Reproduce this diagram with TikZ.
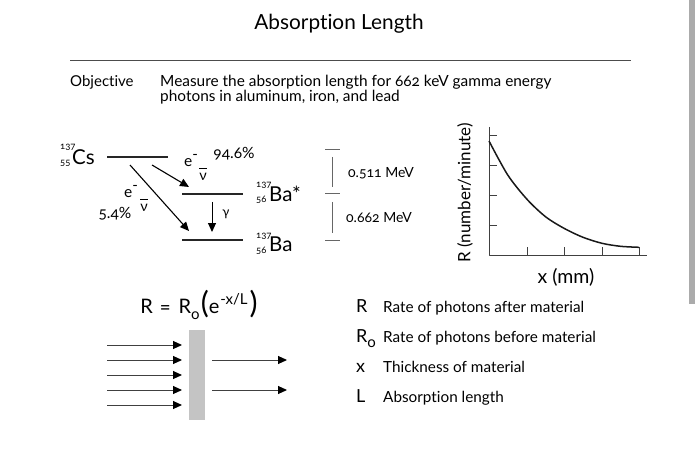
\documentclass[tikz,border=0pt]{standalone}
\usepackage{fontspec}
\setmainfont[Numbers=OldStyle,Ligatures=NoCommon]{Lato}
\usetikzlibrary{arrows.meta}
\tikzset{
	txt/.style={anchor=base west,inner sep=0pt,font=\fontsize{15.3}{16}\selectfont},
	head/.style={anchor=base west,inner sep=0pt,font=\fontsize{15.4}{16}\selectfont},
	big/.style={anchor=base west,inner sep=0pt,font=\fontsize{20.5}{22}\selectfont},
	iso/.style={anchor=base west,inner sep=0pt,font=\fontsize{9.5}{10}\selectfont},
	small/.style={inner sep=0pt,font=\fontsize{15.5}{16}\selectfont},
	mev/.style={inner sep=0pt,font=\fontsize{14}{16}\selectfont},
	level/.style={line width=1.7pt,black!85},
	tick/.style={line width=1pt,black!60},
	beam/.style={->,line width=1pt,black!75},
}
\newcommand{\lowtxt}[1]{\raisebox{-.3em}{\fontsize{15}{15}\selectfont #1}}
\newcommand{\uptxt}[1]{\raisebox{.45em}{\fontsize{15}{15}\selectfont #1}}
\newcommand{\nubar}{\ensuremath{\overline{\hbox{\rule{0pt}{10.5pt}\fontsize{14.5}{15}\selectfont ν}}}}
\begin{document}
\begin{tikzpicture}[x=1pt,y=-1pt,>={Stealth[inset=0pt,length=9pt,width=8pt,color=black]},line join=round]
	\useasboundingbox (0,0) rectangle (700,462);
	\fill[black!33] (689,0) rectangle (695,304); % scroll bar
	% title
	\node[inner sep=0pt,font=\fontsize{20.8}{22}\selectfont] (title) at (339,24) {Absorption Length};
	\coordinate (ruleL) at (70,60); \coordinate (ruleR) at (631,60);
	\draw[line width=.8pt,black!70] (ruleL)--(ruleR);
	\node[head,font=\fontsize{15}{16}\selectfont] (obj) at (70,87) {Objective};
	\node[head] (goal1) at (160,87) {Measure the absorption length for 662 keV gamma energy};
	\node[head] (goal2) at (160,102) {photons in aluminum, iron, and lead};
	% decay scheme
	\coordinate (csL) at (107,157); \coordinate (csR) at (168,157);
	\coordinate (bsL) at (182,194); \coordinate (bsR) at (243,194);
	\coordinate (baL) at (182,240); \coordinate (baR) at (243,240);
	\draw[level] (csL)--(csR) (bsL)--(bsR) (baL)--(baR);
	\coordinate (a1) at (152,165); \coordinate (a2) at (189,187);
	\coordinate (b1) at (130,165); \coordinate (b2) at (189,231);
	\coordinate (g1) at (212,202); \coordinate (g2) at (212,232);
	\draw[->,line width=1.1pt] (a1)--(a2);
	\draw[->,line width=1.1pt] (b1)--(b2);
	\draw[->,line width=1pt] (g1)--(g2);
	\node[iso] (csA) at (60,150) {137};
	\node[iso] (csZ) at (60,166) {55};
	\node[big] (cs) at (72,165) {Cs};
	\node[iso] (bsA) at (256,188) {137};
	\node[iso] (bsZ) at (256,203) {56};
	\node[big] (bastar) at (269,201) {Ba*};
	\node[iso] (baA) at (256,238) {137};
	\node[iso] (baZ) at (256,253) {56};
	\node[big] (ba) at (269,251) {Ba};
	\node[small] (e1) at (191,161) {e\uptxt{-}};
	\node[small] (nu1) at (203,174) {\nubar};
	\node[small] (p1) at (234,154) {94.6\%};
	\node[small] (e2) at (131,192) {e\uptxt{-}};
	\node[small] (nu2) at (144,205) {\nubar};
	\node[small] (p2) at (115,214) {5.4\%};
	\node[small,font=\fontsize{13}{14}\selectfont] (gam) at (226,214) {γ};
	% energy bars
	\foreach \n/\y in {t/150,m/194,b/240}{
		\coordinate (\n L) at (325,\y); \coordinate (\n R) at (340,\y);
		\draw[tick] (\n L)--(\n R);
	}
	\coordinate (v1) at (332,157); \coordinate (v2) at (332,187);
	\coordinate (v3) at (332,202); \coordinate (v4) at (332,233);
	\draw[tick] (v1)--(v2) (v3)--(v4);
	\node[mev] (e511) at (381,173) {0.511 MeV};
	\node[mev] (e662) at (379,218) {0.662 MeV};
	% graph
	\coordinate (O) at (489,255); \coordinate (Y) at (489,127); \coordinate (X) at (647,255);
	\draw[line width=1pt,black!75] (Y)--(O)--(X);
	\foreach \y in {135,165,195,225} \draw[line width=.8pt,black!75] (489,\y)--(497,\y);
	\foreach \x in {527,564,602,639} \draw[line width=.8pt,black!75] (\x,255)--(\x,247);
	\draw[line width=1.5pt,black!90] plot[smooth] coordinates {(489,141) (507.75,175) (527,199.3) (545.5,216.7) (564,228.3) (583,237.3) (602,243.3) (620.5,246.3) (639,247.3)};
	\node[small,font=\fontsize{17}{18}\selectfont,rotate=90] (ylab) at (465,193) {R (number/minute)};
	\node[small,font=\fontsize{19.5}{18}\selectfont] (xlab) at (566,277) {x (mm)};
	% formula
	\node[inner sep=0pt,font=\fontsize{20}{20}\selectfont] (law) at (199,305) {R\hspace{.35em}=\hspace{.4em}R\lowtxt{o}\hspace{.05em}{\fontsize{30}{30}\selectfont(}e\hspace{.05em}\uptxt{-x/L}\hspace{.1em}{\fontsize{30}{30}\selectfont)}};
	% absorber
	\fill[black!23] (189,330) rectangle (205,420);
	\foreach \i/\y in {1/345,2/360,3/375,4/390,5/405}{
		\coordinate (in\i) at (107,\y); \coordinate (to\i) at (182,\y);
		\draw[beam] (in\i)--(to\i);
	}
	\foreach \i/\y in {1/360,2/390}{
		\coordinate (out\i) at (212,\y); \coordinate (end\i) at (287,\y);
		\draw[beam] (out\i)--(end\i);
	}
	% legend
	\foreach \n/\s/\t/\y in {r/R/Rate of photons after material/312,o/R\lowtxt{o}/Rate of photons before material/342,x/x/Thickness of material/372,l/L/Absorption length/402}{
		\node[txt,font=\fontsize{18}{20}\selectfont] (sym\n) at (356,\y) {\s};
		\node[txt] (def\n) at (383,\y) {\t};
	}
\end{tikzpicture}
\end{document}
